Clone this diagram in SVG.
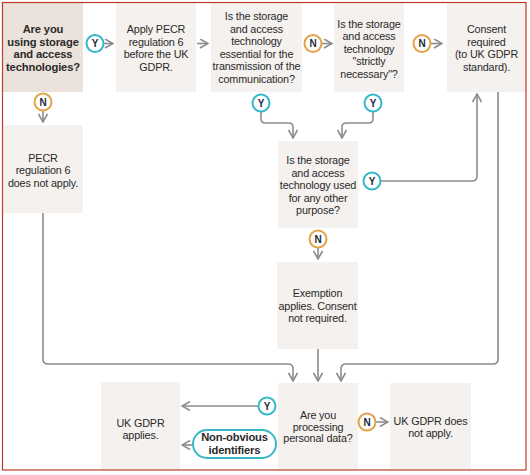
<svg xmlns="http://www.w3.org/2000/svg" width="530" height="475" viewBox="0 0 530 475">
<style>
.box{fill:#f4f1ee}
.dark{fill:#ebe2db}
.t{font-family:"Liberation Sans",Arial,sans-serif;font-size:10.8px;letter-spacing:-0.15px;fill:#2a2a2a;text-anchor:middle}
.b{font-weight:bold;font-size:11.2px}
.c{fill:#fff;stroke-width:2}
.y{stroke:#35b8c8}
.n{stroke:#e3a34a}
.l{font-family:"Liberation Sans",Arial,sans-serif;font-size:10px;font-weight:bold;fill:#1e2a3a;text-anchor:middle}
.w{fill:none;stroke:#8c8c8c;stroke-width:1.6}
</style>
<defs>
<marker id="ah" viewBox="0 0 10 10" refX="9" refY="5" markerWidth="10" markerHeight="10" markerUnits="userSpaceOnUse" orient="auto">
<path d="M1,0.5 L9,5 L1,9.5" fill="none" stroke="#8c8c8c" stroke-width="1.6"/>
</marker>
</defs>
<rect x="0" y="0" width="530" height="475" fill="#fff"/>

<g id="n1"><rect class="dark" x="3" y="3" width="80" height="89"/>
<text class="t b"><tspan x="43" y="33">Are you</tspan><tspan x="43" y="45.7">using storage</tspan><tspan x="43" y="58.3">and access</tspan><tspan x="43" y="71">technologies?</tspan></text></g>

<g id="n2"><rect class="box" x="116" y="3" width="80" height="89"/>
<text class="t"><tspan x="156" y="33">Apply PECR</tspan><tspan x="156" y="45.5">regulation 6</tspan><tspan x="156" y="58">before the UK</tspan><tspan x="156" y="70.5">GDPR.</tspan></text></g>

<g id="n3"><rect class="box" x="211" y="3" width="91" height="89"/>
<text class="t"><tspan x="256.5" y="20">Is the storage</tspan><tspan x="256.5" y="32.5">and access</tspan><tspan x="256.5" y="45">technology</tspan><tspan x="256.5" y="57.5">essential for the</tspan><tspan x="256.5" y="70">transmission of the</tspan><tspan x="256.5" y="82.5">communication?</tspan></text></g>

<g id="n4"><rect class="box" x="334" y="3" width="70" height="89"/>
<text class="t"><tspan x="369" y="27.5">Is the storage</tspan><tspan x="369" y="40">and access</tspan><tspan x="369" y="52.5">technology</tspan><tspan x="369" y="65">"strictly</tspan><tspan x="369" y="77.5">necessary"?</tspan></text></g>

<g id="n5"><rect class="box" x="447" y="3" width="79" height="89"/>
<text class="t"><tspan x="486.5" y="33">Consent</tspan><tspan x="486.5" y="45.5">required</tspan><tspan x="486.5" y="58">(to UK GDPR</tspan><tspan x="486.5" y="70.5">standard).</tspan></text></g>

<g id="n11"><rect class="box" x="3" y="125" width="80" height="88"/>
<text class="t"><tspan x="43" y="162">PECR</tspan><tspan x="43" y="174.3">regulation 6</tspan><tspan x="43" y="186.6">does not apply.</tspan></text></g>

<g id="n6"><rect class="box" x="278" y="141" width="80" height="87"/>
<text class="t"><tspan x="318" y="164">Is the storage</tspan><tspan x="318" y="176.5">and access</tspan><tspan x="318" y="189">technology used</tspan><tspan x="318" y="201.5">for any other</tspan><tspan x="318" y="214">purpose?</tspan></text></g>

<g id="n7"><rect class="box" x="277" y="262" width="81" height="87"/>
<text class="t"><tspan x="317.5" y="297">Exemption</tspan><tspan x="317.5" y="309.5">applies. Consent</tspan><tspan x="317.5" y="322">not required.</tspan></text></g>

<g id="n8"><rect class="box" x="101" y="382" width="79" height="88"/>
<text class="t"><tspan x="140.5" y="426.5">UK GDPR</tspan><tspan x="140.5" y="438.5">applies.</tspan></text></g>

<g id="n9"><rect class="box" x="278" y="383" width="80" height="87"/>
<text class="t"><tspan x="318" y="419">Are you</tspan><tspan x="318" y="430.5">processing</tspan><tspan x="318" y="442">personal data?</tspan></text></g>

<g id="n10"><rect class="box" x="390" y="383" width="81" height="87"/>
<text class="t"><tspan x="430.5" y="425">UK GDPR does</tspan><tspan x="430.5" y="436.5">not apply.</tspan></text></g>

<g id="connectors">
<path class="w" d="M104,43.5 H113" marker-end="url(#ah)"/>
<path class="w" d="M197,43.5 H208" marker-end="url(#ah)"/>
<path class="w" d="M322,43.5 H332" marker-end="url(#ah)"/>
<path class="w" d="M431,43.5 H442" marker-end="url(#ah)"/>
<path class="w" d="M43,110.5 V122" marker-end="url(#ah)"/>
<path class="w" d="M261,111.5 V119 Q261,123 265,123 H289 Q293,123 293,127 V138" marker-end="url(#ah)"/>
<path class="w" d="M373,111.5 V119 Q373,123 369,123 H346 Q342,123 342,127 V138" marker-end="url(#ah)"/>
<path class="w" d="M380.5,181 H472 Q477,181 477,176 V94" marker-end="url(#ah)"/>
<path class="w" d="M318,247.5 V259" marker-end="url(#ah)"/>
<path class="w" d="M498,92 V359 Q498,364 493,364 H346 Q341,364 341,369 V381" marker-end="url(#ah)"/>
<path class="w" d="M43,213 V359 Q43,364 48,364 H288 Q293,364 293,369 V381" marker-end="url(#ah)"/>
<path class="w" d="M318,349 V381" marker-end="url(#ah)"/>
<path class="w" d="M258.5,406 H182" marker-end="url(#ah)"/>
<path class="w" d="M193,445 H182" marker-end="url(#ah)"/>
<path class="w" d="M375.5,422 H388" marker-end="url(#ah)"/>
</g>

<g id="yn">
<circle class="c y" cx="95" cy="43.5" r="8.5"/><text class="l" x="95" y="47.2">Y</text>
<circle class="c n" cx="43" cy="102" r="8.5"/><text class="l" x="43" y="105.7">N</text>
<circle class="c n" cx="313" cy="43.5" r="8.5"/><text class="l" x="313" y="47.2">N</text>
<circle class="c n" cx="422" cy="43.5" r="8.5"/><text class="l" x="422" y="47.2">N</text>
<circle class="c y" cx="261" cy="103" r="8.5"/><text class="l" x="261" y="106.7">Y</text>
<circle class="c y" cx="373" cy="103" r="8.5"/><text class="l" x="373" y="106.7">Y</text>
<circle class="c y" cx="372" cy="181" r="8.5"/><text class="l" x="372" y="184.7">Y</text>
<circle class="c n" cx="318" cy="239" r="8.5"/><text class="l" x="318" y="242.7">N</text>
<circle class="c y" cx="267" cy="406" r="8.5"/><text class="l" x="267" y="409.7">Y</text>
<circle class="c n" cx="367" cy="422" r="8.5"/><text class="l" x="367" y="425.7">N</text>
</g>

<g id="pill"><rect x="193" y="430" width="83" height="28" rx="14" fill="#fff" stroke="#35b8c8" stroke-width="2"/>
<text class="t b"><tspan x="234.5" y="441">Non-obvious</tspan><tspan x="234.5" y="454">identifiers</tspan></text></g>

<rect x="2.5" y="2.5" width="523.5" height="467.5" fill="none" stroke="#c0392b" stroke-width="1.2"/>
</svg>
